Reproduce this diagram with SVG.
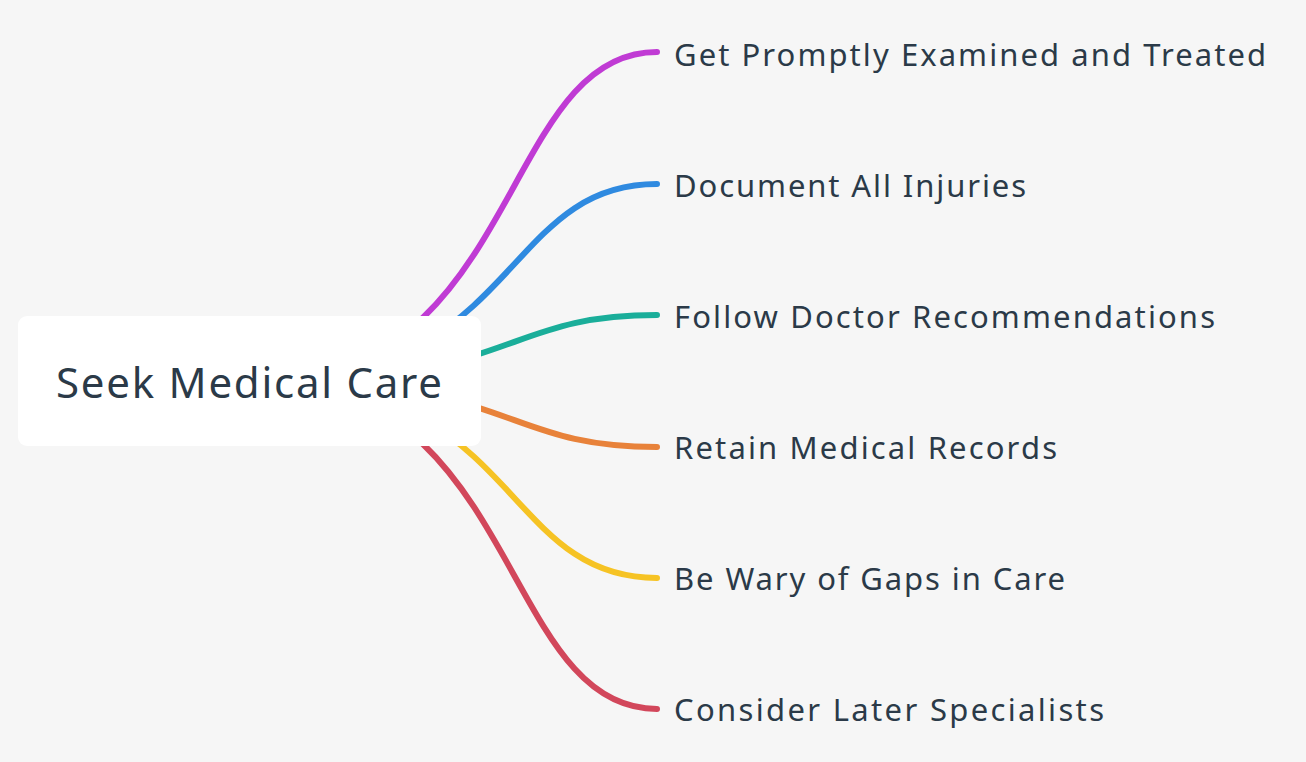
<svg xmlns="http://www.w3.org/2000/svg" width="1306" height="762" viewBox="0 0 1306 762">
<style>
.c{fill:none;stroke-width:6;stroke-linecap:round}
.t{font-family:"Noto Sans",Lato,sans-serif;fill:#2b3a48}
.l{font-size:31px}
</style>
<rect width="1306" height="762" fill="#f6f6f6"/>
<g id="connectors">
<path class="c" stroke="#c03bd4" d="M260,381 C520,381 500,52 657,52"/>
<path class="c" stroke="#2f8ae0" d="M260,381 C520,381 500,184 657,184"/>
<path class="c" stroke="#1aae9a" d="M260,381 C520,381 500,315 657,315"/>
<path class="c" stroke="#e8823a" d="M260,381 C520,381 500,447 657,447"/>
<path class="c" stroke="#f6c324" d="M260,381 C520,381 500,578 657,578"/>
<path class="c" stroke="#d2475b" d="M260,381 C520,381 500,709 657,709"/>
</g>
<g id="root"><rect x="18" y="316" width="463" height="130" rx="9" fill="#fff"/>
<text class="t" x="56" y="398" font-size="42" textLength="386" lengthAdjust="spacing">Seek Medical Care</text></g>
<g id="n1"><text class="t l" x="674" y="66" textLength="592" lengthAdjust="spacing">Get Promptly Examined and Treated</text></g>
<g id="n2"><text class="t l" x="674" y="197" textLength="352" lengthAdjust="spacing">Document All Injuries</text></g>
<g id="n3"><text class="t l" x="674" y="328" textLength="541" lengthAdjust="spacing">Follow Doctor Recommendations</text></g>
<g id="n4"><text class="t l" x="674" y="459" textLength="383" lengthAdjust="spacing">Retain Medical Records</text></g>
<g id="n5"><text class="t l" x="674" y="590" textLength="391" lengthAdjust="spacing">Be Wary of Gaps in Care</text></g>
<g id="n6"><text class="t l" x="674" y="721" textLength="430" lengthAdjust="spacing">Consider Later Specialists</text></g>
</svg>
